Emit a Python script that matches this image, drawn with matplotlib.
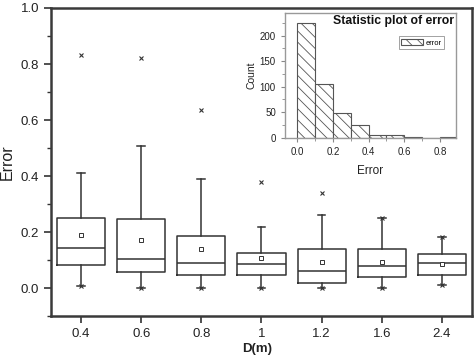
import matplotlib
matplotlib.use('Agg')
import matplotlib.pyplot as plt
from matplotlib.ticker import MultipleLocator

plt.rcParams['font.family'] = ['Liberation Sans', 'DejaVu Sans']
plt.rcParams['hatch.color'] = '#555555'
plt.rcParams['hatch.linewidth'] = 0.6

# Box plot data
labels = ['0.4', '0.6', '0.8', '1', '1.2', '1.6', '2.4']
q1 = [0.082, 0.057, 0.045, 0.046, 0.017, 0.038, 0.048]
med = [0.143, 0.104, 0.091, 0.084, 0.062, 0.080, 0.088]
q3 = [0.251, 0.247, 0.186, 0.124, 0.138, 0.138, 0.121]
mean = [0.188, 0.170, 0.138, 0.106, 0.093, 0.093, 0.087]
whislo = [0.007, 0.001, 0.001, 0.000, 0.000, 0.000, 0.011]
whishi = [0.412, 0.508, 0.388, 0.219, 0.259, 0.250, 0.183]
maxval = [0.832, 0.821, 0.634, 0.377, 0.338, 0.250, 0.183]

# Histogram (inset) data
bin_edges = [0.0, 0.1, 0.2, 0.3, 0.4, 0.5, 0.6, 0.7, 0.8, 0.9]
counts = [225, 105, 48, 24, 5, 5, 2, 0, 2]

fig = plt.figure(figsize=(4.74, 3.57), dpi=100)
ax = fig.add_axes([0.1076, 0.1148, 0.888, 0.8628])

pos = list(range(1, len(labels) + 1))
stats = []
for i in range(len(labels)):
    stats.append({'q1': q1[i], 'med': med[i], 'q3': q3[i], 'mean': mean[i],
                  'whislo': whislo[i], 'whishi': whishi[i], 'fliers': []})

lc = '#333333'
ax.bxp(stats, positions=pos, widths=0.8, capwidths=0.13, showmeans=True,
       boxprops=dict(color=lc, linewidth=1.1),
       medianprops=dict(color=lc, linewidth=1.1),
       whiskerprops=dict(color=lc, linewidth=1.1),
       capprops=dict(color=lc, linewidth=1.1),
       meanprops=dict(marker='s', markersize=3.5, markerfacecolor='white',
                      markeredgecolor=lc, markeredgewidth=0.7))
ax.plot(pos, maxval, 'x', color=lc, markersize=3.5, markeredgewidth=0.8)
ax.plot(pos, whislo, 'x', color=lc, markersize=3.5, markeredgewidth=0.8)

ax.set_xlim(0.5, 7.5)
ax.set_ylim(-0.1, 1.0)
ax.set_xticks(pos)
ax.set_xticklabels(labels)
ax.yaxis.set_minor_locator(MultipleLocator(0.1))
ax.set_yticks([0.0, 0.2, 0.4, 0.6, 0.8, 1.0])
ax.tick_params(axis='both', direction='out', labelsize=9.5, length=5, width=1.2,
               color=lc, labelcolor='#222222')
ax.tick_params(axis='y', which='minor', direction='out', length=3, width=1.0, color=lc)
ax.tick_params(axis='x', which='minor', bottom=False)
for sp in ax.spines.values():
    sp.set_color('#3a3a3a')
    sp.set_linewidth(1.8)
ax.set_ylabel('Error', fontsize=11.5, color='#222222')
ax.yaxis.set_label_coords(-0.086, 0.5)
ax.set_xlabel('D(m)', fontsize=9.5, fontweight='bold', color='#222222')
ax.xaxis.set_label_coords(0.49, -0.086)

# Inset histogram
ins = fig.add_axes([0.601, 0.6143, 0.361, 0.3501])
widths = [bin_edges[i + 1] - bin_edges[i] for i in range(len(counts))]
ins.bar(bin_edges[:-1], counts, width=widths, align='edge', color='white',
        edgecolor='#555555', linewidth=0.8, hatch='\\\\\\', label='error')
ins.set_xlim(-0.07, 0.89)
ins.set_ylim(0, 245)
ins.set_xticks([0.0, 0.2, 0.4, 0.6, 0.8])
ins.set_yticks([0, 50, 100, 150, 200])
ins.xaxis.set_minor_locator(MultipleLocator(0.1))
ins.yaxis.set_minor_locator(MultipleLocator(25))
ins.tick_params(axis='both', direction='out', labelsize=7, length=3, width=0.8,
                color='#888888', labelcolor='#222222')
ins.tick_params(axis='both', which='minor', direction='out', length=2, width=0.6,
                color='#888888')
for sp in ins.spines.values():
    sp.set_color('#999999')
    sp.set_linewidth(1.0)
ins.set_ylabel('Count', fontsize=7.5, color='#222222', labelpad=2)
ins.set_xlabel('Error', fontsize=8.5, color='#222222', labelpad=6)
ins.text(0.99, 0.93, 'Statistic plot of error', transform=ins.transAxes,
         ha='right', va='center', fontsize=8.8, fontweight='bold', color='#111111')
leg = ins.legend(loc='upper right', bbox_to_anchor=(0.93, 0.81), fontsize=5.5,
                 frameon=True, fancybox=False, handlelength=2.8, handleheight=0.9,
                 borderpad=0.3, handletextpad=0.4, borderaxespad=0.0)
leg.get_frame().set_edgecolor('#777777')
leg.get_frame().set_linewidth(0.6)

fig.savefig('out.png', dpi=100)
